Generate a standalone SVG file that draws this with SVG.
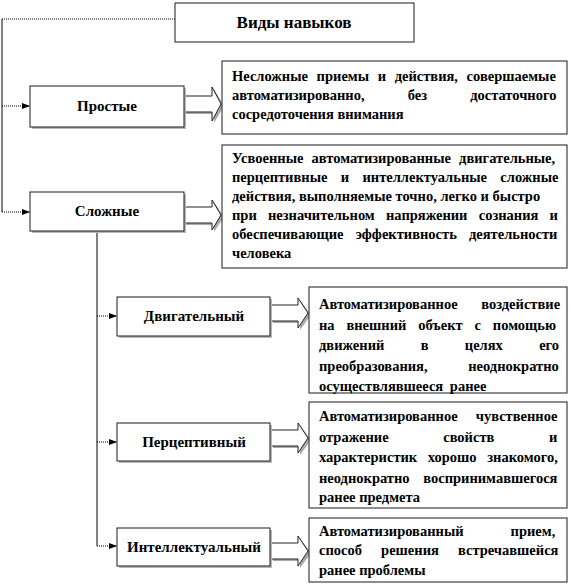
<svg xmlns="http://www.w3.org/2000/svg" width="571" height="588" viewBox="0 0 571 588">
<defs>
<style>
.box{fill:#fff;stroke:#1a1a1a;stroke-width:1}
.shadow{fill:#b8b8b8;stroke:none}
text{font-family:'Liberation Serif','Times New Roman',serif;font-weight:bold;fill:#000}
.lbl{font-size:15px;text-anchor:middle}
.d{font-size:14.5px}
.con{fill:none;stroke:#000;stroke-width:1}
.dot{fill:none;stroke:#000;stroke-width:1.2;stroke-dasharray:1 1}
.barrow{fill:#fff;stroke:#222;stroke-width:1}
.barrow-sh{fill:#aaa;stroke:none}
</style>
<marker id="ah" viewBox="0 0 8 8" refX="8" refY="4" markerWidth="8" markerHeight="8" markerUnits="userSpaceOnUse" orient="auto">
<path d="M0,1 L8,4 L0,7 Z" fill="#000"/>
</marker>
</defs>
<rect width="571" height="588" fill="#fff"/>

<g id="connectors">
<line class="dot" x1="175" y1="19" x2="2" y2="19"/>
<line class="con" x1="2" y1="19" x2="2" y2="212"/>
<line class="dot" x1="2" y1="106" x2="30" y2="106" marker-end="url(#ah)"/>
<line class="dot" x1="2" y1="212" x2="30" y2="212" marker-end="url(#ah)"/>
<line class="con" x1="97" y1="231" x2="97" y2="546"/>
<line class="dot" x1="97" y1="316" x2="117" y2="316" marker-end="url(#ah)"/>
<line class="dot" x1="97" y1="442" x2="117" y2="442" marker-end="url(#ah)"/>
<line class="dot" x1="97" y1="546" x2="117" y2="546" marker-end="url(#ah)"/>
<polygon class="barrow-sh" points="186,98 214,98 214,89 224,106 214,123 214,114 186,114"/>
<polygon class="barrow" points="184,96 212,96 212,87 221,104 212,121 212,112 184,112"/>
<polygon class="barrow-sh" points="186,209 214,209 214,202 224,217 214,232 214,225 186,225"/>
<polygon class="barrow" points="184,207 212,207 212,200 221,215 212,230 212,223 184,223"/>
<polygon class="barrow-sh" points="273,307 300,307 300,300 311,315 300,330 300,323 273,323"/>
<polygon class="barrow" points="271,305 298,305 298,298 308,313 298,328 298,321 271,321"/>
<polygon class="barrow-sh" points="273,432 300,432 300,425 311,440 300,455 300,448 273,448"/>
<polygon class="barrow" points="271,430 298,430 298,423 308,438 298,453 298,446 271,446"/>
<polygon class="barrow-sh" points="273,545 300,545 300,538 311,553 300,568 300,561 273,561"/>
<polygon class="barrow" points="271,543 298,543 298,536 308,551 298,566 298,559 271,559"/>
</g>

<g id="title">
<rect class="box" x="175" y="3" width="239" height="39"/>
<text x="294" y="28" font-size="17" text-anchor="middle">Виды навыков</text>
</g>

<g id="prostye">
<rect class="shadow" x="32" y="88" width="154" height="41"/>
<rect class="box" x="30" y="86" width="154" height="41"/>
<text class="lbl" x="107" y="111">Простые</text>
</g>

<g id="slozhnye">
<rect class="shadow" x="32" y="194" width="154" height="39"/>
<rect class="box" x="30" y="192" width="154" height="39"/>
<text class="lbl" x="107" y="216">Сложные</text>
</g>

<g id="dvigatelny">
<rect class="shadow" x="119" y="299" width="153" height="39"/>
<rect class="box" x="117" y="297" width="153" height="39"/>
<text class="lbl" x="194" y="321">Двигательный</text>
</g>

<g id="perceptivny">
<rect class="shadow" x="119" y="425" width="153" height="38"/>
<rect class="box" x="117" y="423" width="153" height="38"/>
<text class="lbl" x="194" y="447">Перцептивный</text>
</g>

<g id="intellektualny">
<rect class="shadow" x="119" y="530" width="153" height="38"/>
<rect class="box" x="117" y="528" width="153" height="38"/>
<text class="lbl" x="194" y="552">Интеллектуальный</text>
</g>

<g id="desc-prostye">
<rect class="box" x="222" y="61" width="345" height="73"/>
<text class="d" x="232" y="81">Несложные <tspan dx="5">приемы</tspan> <tspan dx="5">и</tspan> <tspan dx="5">действия,</tspan> <tspan dx="5">совершаемые</tspan></text>
<text class="d" x="232" y="100">автоматизированно, <tspan dx="39.5">без</tspan> <tspan dx="39.5">достаточного</tspan></text>
<text class="d" x="232" y="119">сосредоточения внимания</text>
</g>

<g id="desc-slozhnye">
<rect class="box" x="222" y="145" width="345" height="123"/>
<text class="d" x="232" y="163">Усвоенные <tspan dx="4.5">автоматизированные</tspan> <tspan dx="4.5">двигательные,</tspan></text>
<text class="d" x="232" y="182">перцептивные <tspan dx="9.7">и</tspan> <tspan dx="9.7">интеллектуальные</tspan> <tspan dx="9.7">сложные</tspan></text>
<text class="d" x="232" y="201">действия, выполняемые точно, легко и быстро</text>
<text class="d" x="232" y="220">при <tspan dx="7.6">незначительном</tspan> <tspan dx="7.6">напряжении</tspan> <tspan dx="7.6">сознания</tspan> <tspan dx="7.6">и</tspan></text>
<text class="d" x="232" y="239">обеспечивающие <tspan dx="8.5">эффективность</tspan> <tspan dx="8.5">деятельности</tspan></text>
<text class="d" x="232" y="258">человека</text>
</g>

<g id="desc-dvigatelny">
<rect class="box" x="309" y="287" width="258" height="106"/>
<text class="d" x="319" y="309">Автоматизированное <tspan dx="20">воздействие</tspan></text>
<text class="d" x="319" y="330">на <tspan dx="8.2">внешний</tspan> <tspan dx="8.2">объект</tspan> <tspan dx="8.2">с</tspan> <tspan dx="8.2">помощью</tspan></text>
<text class="d" x="319" y="350">движений <tspan dx="32.7">в</tspan> <tspan dx="32.7">целях</tspan> <tspan dx="32.7">его</tspan></text>
<text class="d" x="319" y="371">преобразования, <tspan dx="37">неоднократно</tspan></text>
<text class="d" x="319" y="391">осуществлявшееся <tspan dx="3">ранее</tspan></text>
</g>

<g id="desc-perceptivny">
<rect class="box" x="309" y="402" width="258" height="106"/>
<text class="d" x="319" y="421">Автоматизированное <tspan dx="14.5">чувственное</tspan></text>
<text class="d" x="319" y="442">отражение <tspan dx="51">свойств</tspan> <tspan dx="51">и</tspan></text>
<text class="d" x="319" y="462">характеристик <tspan dx="7">хорошо</tspan> <tspan dx="7">знакомого,</tspan></text>
<text class="d" x="319" y="483">неоднократно <tspan dx="10">воспринимавшегося</tspan></text>
<text class="d" x="319" y="502">ранее предмета</text>
</g>

<g id="desc-intellektualny">
<rect class="box" x="309" y="518" width="258" height="64"/>
<text class="d" x="319" y="536">Автоматизированный <tspan dx="43.4">прием,</tspan></text>
<text class="d" x="319" y="555">способ <tspan dx="15.5">решения</tspan> <tspan dx="15.5">встречавшейся</tspan></text>
<text class="d" x="319" y="575">ранее проблемы</text>
</g>
</svg>
